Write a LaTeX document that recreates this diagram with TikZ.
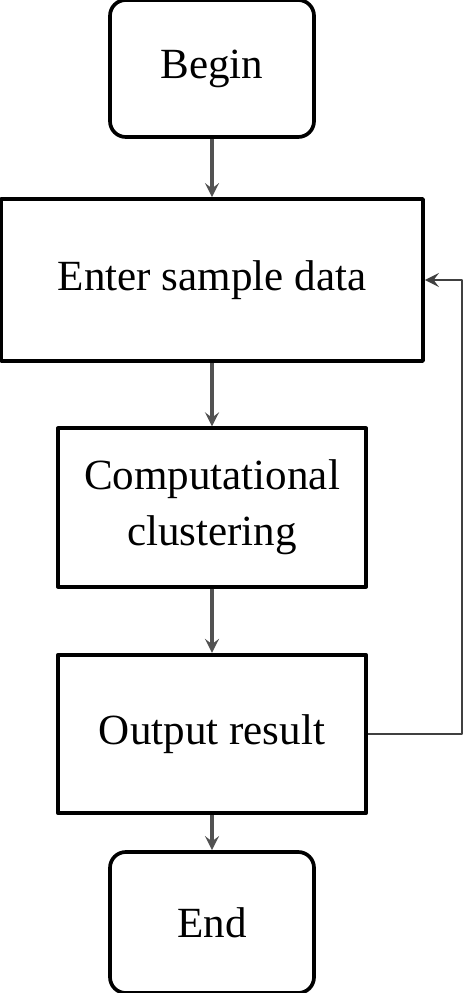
\documentclass[tikz,border=0pt]{standalone}
\usepackage{fontspec}
\setmainfont{Liberation Serif}
\usetikzlibrary{arrows.meta}
\begin{document}
\begin{tikzpicture}[>={Stealth[length=8pt,width=8pt,inset=3pt]}, font=\fontsize{24.5}{32}\selectfont, line join=round,
	box/.style={draw, line width=2.1pt, inner sep=0pt, align=center, minimum width=6.16cm, minimum height=3.17cm},
	term/.style={box, rounded corners=9pt, minimum width=4.08cm},
	flow/.style={->, draw=black!68, line width=2.4pt}]
			%khung
			\useasboundingbox (0,0) rectangle (9.3,-19.86);
			\def\xc{4.24}
			\node[term, minimum height=2.74cm] (begin) at (\xc,-1.37) {Begin};
			\node[box, minimum width=8.44cm, minimum height=3.24cm] (enter) at (\xc,-5.6) {Enter sample data};
			\node[box] (comp) at (\xc,-10.15) {Computational\\clustering};
			\node[box] (out) at (\xc,-14.68) {Output result};
			\node[term, minimum height=2.82cm] (end) at (\xc,-18.45) {End};
			%mui ten
			\draw[flow] (begin) -- (enter);
			\draw[flow] (enter) -- (comp);
			\draw[flow] (comp) -- (out);
			\draw[flow] (out) -- (end);
			%quay lai
			\coordinate (back) at (9.24,0);
			\draw[->, draw=black!75, line width=1.3pt] (out.east) -- (out.east -| back) |- (enter.east);
		\end{tikzpicture}
\end{document}
